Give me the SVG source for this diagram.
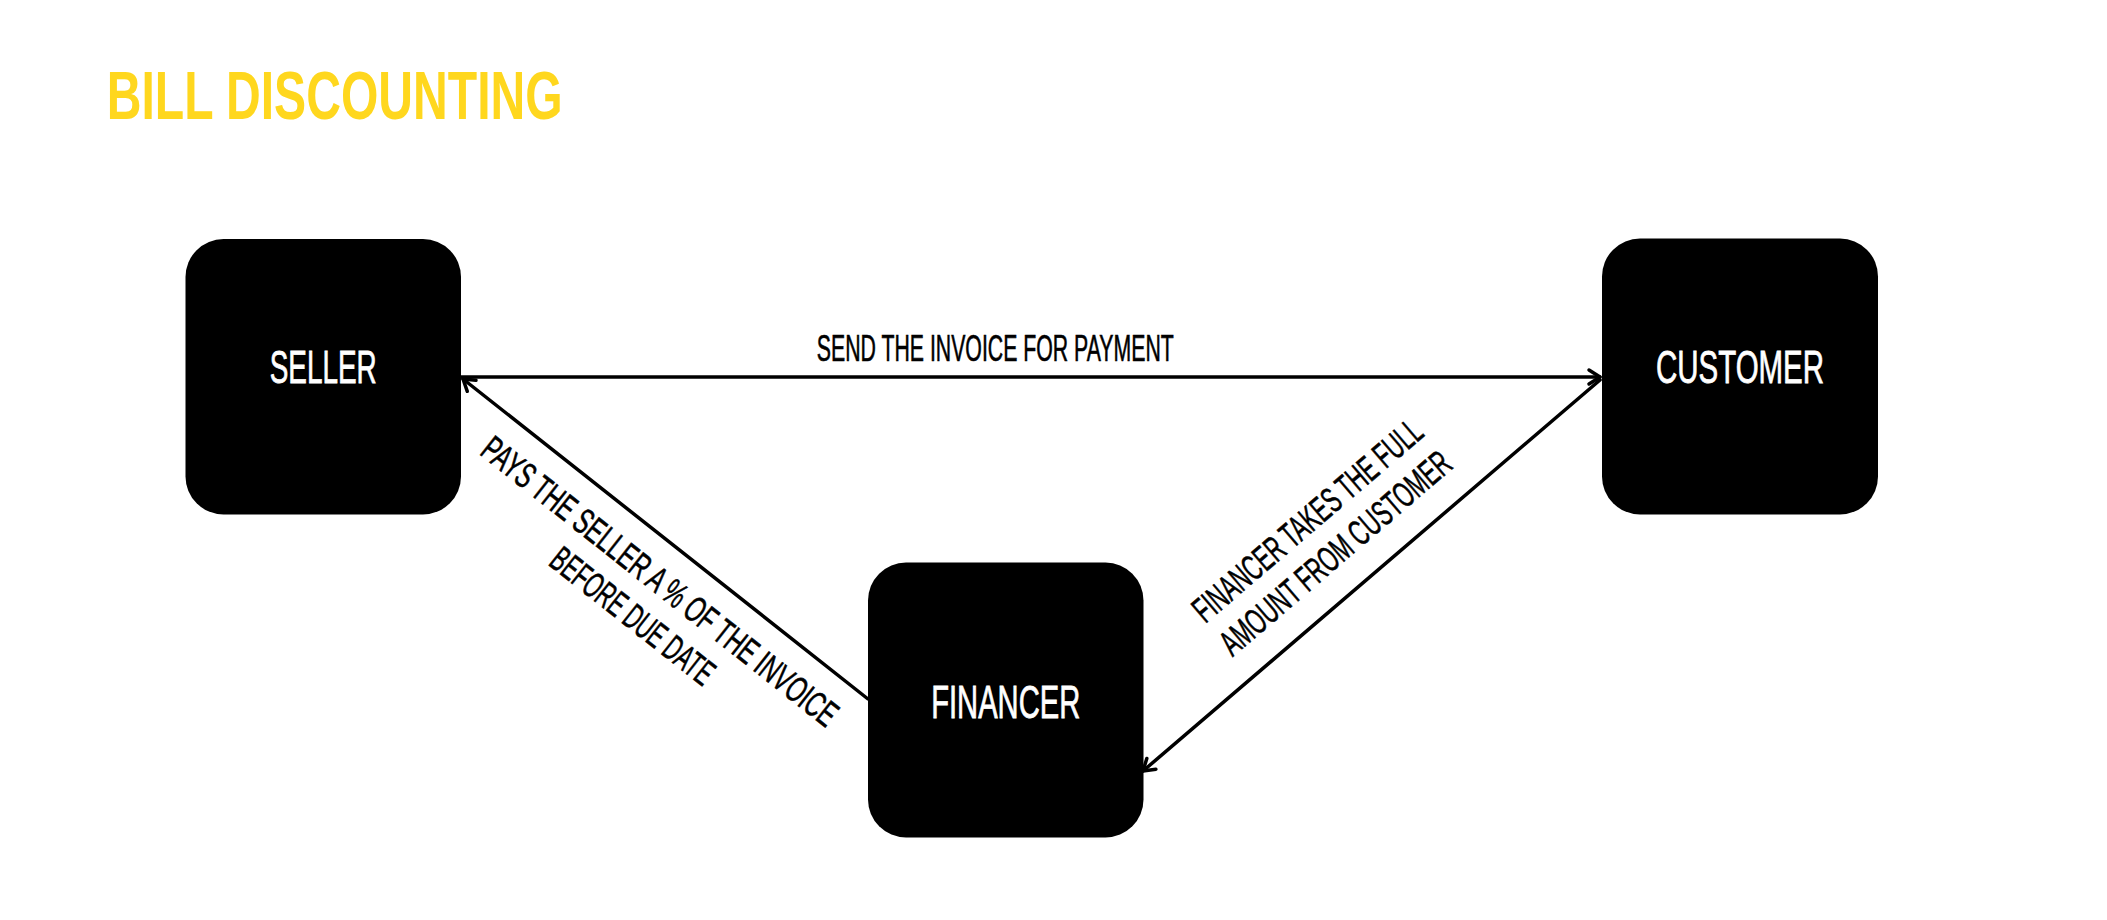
<svg xmlns="http://www.w3.org/2000/svg" width="2107" height="920" viewBox="0 0 2107 920">
  <style>
    .box { fill: #000000; }
    .nodelabel { font-family: "Liberation Sans Narrow", "Liberation Sans", Arial, sans-serif; font-size: 47px; fill: #ffffff; stroke: #ffffff; stroke-width: 0.8; text-anchor: middle; }
    .edgelabel { font-family: "Liberation Sans Narrow", "Liberation Sans", Arial, sans-serif; font-size: 36px; fill: #000000; stroke: #000000; stroke-width: 0.6; text-anchor: middle; }
    .title { font-family: "Liberation Sans", Arial, sans-serif; font-size: 68px; font-weight: bold; fill: #FFD71E; }
    .edge { stroke: #000000; stroke-width: 3.5; fill: none; stroke-linecap: round; }
  </style>
  <defs>
    <marker id="arrow" markerUnits="userSpaceOnUse" markerWidth="30" markerHeight="30" viewBox="-20 -15 30 30" refX="0" refY="0" orient="auto">
      <path d="M -11,-7 L 0,0 L -11,7" fill="none" stroke="#000000" stroke-width="3.5" stroke-linecap="round" stroke-linejoin="round"/>
    </marker>
  </defs>
  <rect width="2107" height="920" fill="#ffffff"/>

  <text class="title" x="106.7" y="119" textLength="456" lengthAdjust="spacingAndGlyphs">BILL DISCOUNTING</text>

  <g id="connectors">
    <line class="edge" x1="461" y1="377" x2="1600" y2="377" marker-end="url(#arrow)"/>
    <line class="edge" x1="868" y1="699" x2="463" y2="379" marker-end="url(#arrow)"/>
    <line class="edge" x1="1600" y1="380" x2="1143" y2="771" marker-end="url(#arrow)"/>
    <text class="edgelabel" x="995.3" y="360.7" textLength="357" lengthAdjust="spacingAndGlyphs">SEND THE INVOICE FOR PAYMENT</text>
    <g transform="translate(463,379) rotate(38.31)">
      <text class="edgelabel" x="280" y="49" textLength="443" lengthAdjust="spacingAndGlyphs">PAYS THE SELLER A % OF THE INVOICE</text>
      <text class="edgelabel" x="280" y="93" textLength="198" lengthAdjust="spacingAndGlyphs">BEFORE DUE DATE</text>
    </g>
    <g transform="translate(1143,771) rotate(-40.6)">
      <text class="edgelabel" x="288" y="-71" textLength="290" lengthAdjust="spacingAndGlyphs">FINANCER TAKES THE FULL</text>
      <text class="edgelabel" x="288" y="-28" textLength="292" lengthAdjust="spacingAndGlyphs">AMOUNT FROM CUSTOMER</text>
    </g>
  </g>

  <g id="seller">
    <rect class="box" x="185.5" y="239" width="275.5" height="275.5" rx="38" ry="38"/>
    <text class="nodelabel" x="323.2" y="383" textLength="107" lengthAdjust="spacingAndGlyphs">SELLER</text>
  </g>
  <g id="customer">
    <rect class="box" x="1602" y="238.5" width="276" height="276" rx="38" ry="38"/>
    <text class="nodelabel" x="1740" y="383" textLength="168" lengthAdjust="spacingAndGlyphs">CUSTOMER</text>
  </g>
  <g id="financer">
    <rect class="box" x="868" y="562.5" width="275.5" height="275" rx="38" ry="38"/>
    <text class="nodelabel" x="1005.7" y="718" textLength="149" lengthAdjust="spacingAndGlyphs">FINANCER</text>
  </g>
</svg>
